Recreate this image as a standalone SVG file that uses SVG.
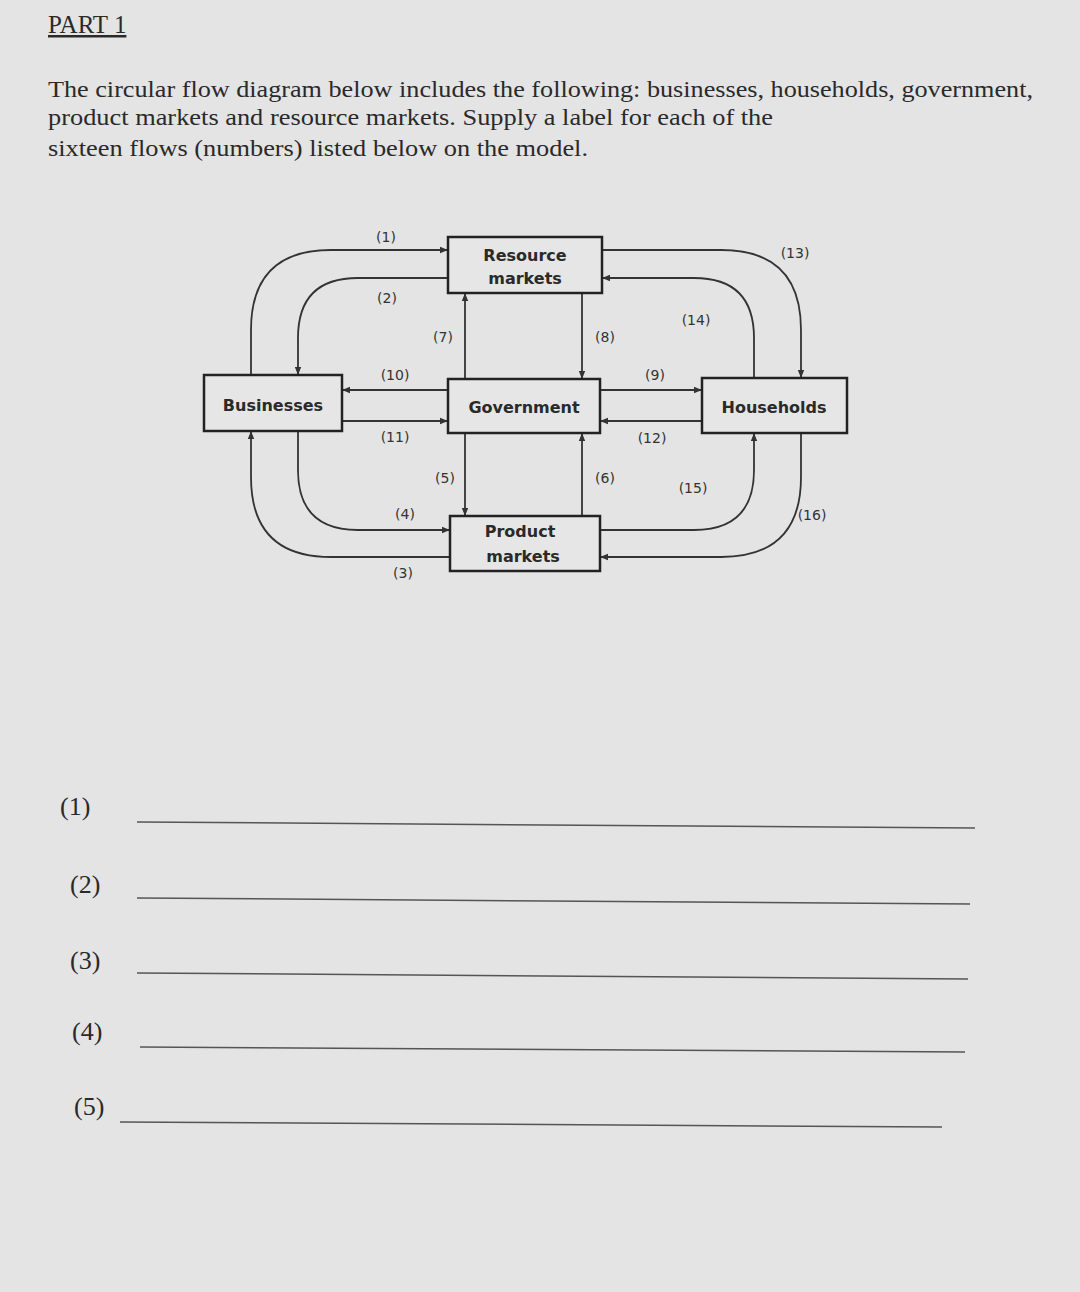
<svg xmlns="http://www.w3.org/2000/svg" width="1080" height="1292" viewBox="0 0 1080 1292">
<defs>
<marker id="ah" viewBox="0 0 10 10" refX="10" refY="5" markerWidth="10" markerHeight="8" orient="auto" markerUnits="userSpaceOnUse"><path d="M0,1 L10,5 L0,9 z" fill="#333"/></marker>
</defs>
<style>
.serif{font-family:"Liberation Serif",serif;fill:#2a2a2a}
.box{fill:#e6e6e6;stroke:#222;stroke-width:2.5}
.bt{font-family:"DejaVu Sans",sans-serif;font-weight:bold;font-size:16px;fill:#2a2a2a;text-anchor:middle}
.lb{font-family:"DejaVu Sans",sans-serif;font-size:14px;fill:#333;text-anchor:middle}
.c{fill:none;stroke:#333;stroke-width:1.8;marker-end:url(#ah)}
.ln{stroke:#555;stroke-width:1.5}
</style>
<rect width="1080" height="1292" fill="#e4e4e4"/>
<text class="serif" x="48" y="33" font-size="25" text-decoration="underline">PART 1</text>
<text class="serif" x="48" y="97" font-size="24" textLength="985" lengthAdjust="spacingAndGlyphs">The circular flow diagram below includes the following: businesses, households, government,</text>
<text class="serif" x="48" y="125" font-size="24" textLength="725" lengthAdjust="spacingAndGlyphs">product markets and resource markets. Supply a label for each of the</text>
<text class="serif" x="48" y="156" font-size="24" textLength="540" lengthAdjust="spacingAndGlyphs">sixteen flows (numbers) listed below on the model.</text>
<g id="connectors">
<path class="c" d="M251,375 V330 Q251,250 331,250 H448"/>
<path class="c" d="M448,278 H358 Q298,278 298,338 V375"/>
<path class="c" d="M465,379 V293"/>
<path class="c" d="M582,293 V379"/>
<path class="c" d="M448,390 H342"/>
<path class="c" d="M342,421 H448"/>
<path class="c" d="M600,390 H702"/>
<path class="c" d="M702,421 H600"/>
<path class="c" d="M602,250 H721 Q801,250 801,330 V378"/>
<path class="c" d="M754,378 V338 Q754,278 694,278 H602"/>
<path class="c" d="M465,433 V516"/>
<path class="c" d="M582,516 V433"/>
<path class="c" d="M298,431 V470 Q298,530 358,530 H450"/>
<path class="c" d="M450,557 H331 Q251,557 251,477 V431"/>
<path class="c" d="M600,530 H694 Q754,530 754,470 V433"/>
<path class="c" d="M801,433 V477 Q801,557 721,557 H600"/>
</g>
<g id="resource"><rect class="box" x="448" y="237" width="154" height="56"/><text class="bt" x="525" y="261">Resource</text><text class="bt" x="525" y="284">markets</text></g>
<g id="government"><rect class="box" x="448" y="379" width="152" height="54"/><text class="bt" x="524" y="413">Government</text></g>
<g id="businesses"><rect class="box" x="204" y="375" width="138" height="56"/><text class="bt" x="273" y="411">Businesses</text></g>
<g id="households"><rect class="box" x="702" y="378" width="145" height="55"/><text class="bt" x="774" y="413">Households</text></g>
<g id="product"><rect class="box" x="450" y="516" width="150" height="55"/><text class="bt" x="520" y="537">Product</text><text class="bt" x="523" y="562">markets</text></g>
<g id="labels">
<text class="lb" x="386" y="242">(1)</text>
<text class="lb" x="387" y="303">(2)</text>
<text class="lb" x="403" y="578">(3)</text>
<text class="lb" x="405" y="519">(4)</text>
<text class="lb" x="445" y="483">(5)</text>
<text class="lb" x="605" y="483">(6)</text>
<text class="lb" x="443" y="342">(7)</text>
<text class="lb" x="605" y="342">(8)</text>
<text class="lb" x="655" y="380">(9)</text>
<text class="lb" x="395" y="380">(10)</text>
<text class="lb" x="395" y="442">(11)</text>
<text class="lb" x="652" y="443">(12)</text>
<text class="lb" x="795" y="258">(13)</text>
<text class="lb" x="696" y="325">(14)</text>
<text class="lb" x="693" y="493">(15)</text>
<text class="lb" x="812" y="520">(16)</text>
</g>
<text class="serif" x="60" y="815" font-size="26">(1)</text>
<line class="ln" x1="137" y1="822" x2="975" y2="828"/>
<text class="serif" x="70" y="893" font-size="26">(2)</text>
<line class="ln" x1="137" y1="898" x2="970" y2="904"/>
<text class="serif" x="70" y="969" font-size="26">(3)</text>
<line class="ln" x1="137" y1="973" x2="968" y2="979"/>
<text class="serif" x="72" y="1040" font-size="26">(4)</text>
<line class="ln" x1="140" y1="1047" x2="965" y2="1052"/>
<text class="serif" x="74" y="1115" font-size="26">(5)</text>
<line class="ln" x1="120" y1="1122" x2="942" y2="1127"/>
</svg>
